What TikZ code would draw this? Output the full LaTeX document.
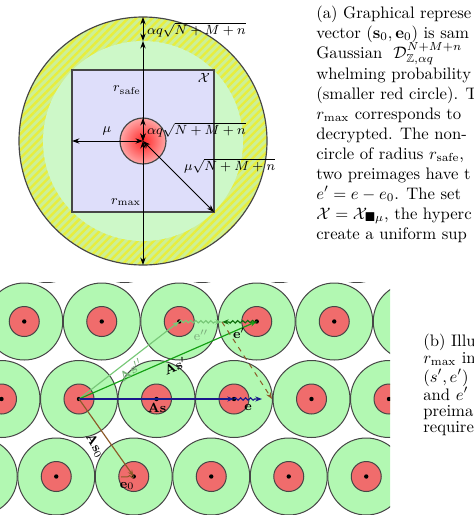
\documentclass[tikz,border=0pt]{standalone}
\usepackage{amsmath,amssymb}
\usetikzlibrary{arrows.meta,patterns.meta,decorations.pathmorphing}
\definecolor{ringbase}{RGB}{205,240,150}
\definecolor{ringstripe}{RGB}{232,238,60}
\definecolor{innergreen}{RGB}{205,248,200}
\definecolor{sqfill}{RGB}{222,222,250}
\definecolor{latgreen}{RGB}{178,248,178}
\definecolor{latred}{RGB}{240,108,108}
\definecolor{lineg}{RGB}{70,70,70}
\definecolor{vblue}{RGB}{25,25,140}
\definecolor{vgreen}{RGB}{20,160,20}
\definecolor{vlgreen}{RGB}{120,200,120}
\definecolor{vbrown}{RGB}{140,90,40}
\tikzset{
  dimarrow/.style={{Stealth[length=4.5pt,width=3.2pt]}-{Stealth[length=4.5pt,width=3.2pt]}, line width=0.6pt},
  vec/.style={-{Stealth[length=4pt,width=3pt]}, line width=0.7pt},
  wavy/.style={decorate, decoration={snake, amplitude=0.7pt, segment length=3pt, post length=3pt}},
  lab/.style={font=\footnotesize, inner sep=1pt},
  captext/.style={anchor=base west, inner sep=0pt, font=\fontsize{10}{12}\selectfont},
}
\begin{document}
\begin{tikzpicture}[x=0.6pt,y=-0.6pt]
\useasboundingbox (0,0) rectangle (474,515);
\clip (0,0) rectangle (474,515);
% ---------- top figure ----------
\coordinate (C) at (143,141);
\fill[ringbase] (C) circle[radius=124];
\fill[pattern={Lines[angle=45,distance=3.4pt,line width=1.4pt]}, pattern color=ringstripe] (C) circle[radius=124];
\draw[lineg, line width=0.7pt] (C) circle[radius=124];
\fill[innergreen] (C) circle[radius=100];
\draw[lineg, line width=0.7pt, fill=sqfill] (72,70) rectangle (214,212);
\shade[inner color=red!85, outer color=red!35] (C) circle[radius=23];
\draw[lineg, line width=0.7pt] (C) circle[radius=23];
\coordinate (Otop) at (143,17);
\coordinate (Isafe) at (143,41);
\coordinate (Obot) at (143,265);
\coordinate (Rtop) at (143,118);
\coordinate (Sleft) at (72,141);
\coordinate (Scorner) at (214,212);
\draw[dimarrow] (Otop) -- (Isafe);
\draw[dimarrow] (C) -- (Isafe);
\draw[dimarrow] (C) -- (Obot);
\draw[dimarrow] (C) -- (Rtop);
\draw[dimarrow] (Sleft) -- (C);
\draw[dimarrow] (C) -- (Scorner);
\node[lab] (lsafe) at (127,90) {$r_{\mathrm{safe}}$};
\node[lab] (lmax) at (126,202) {$r_{\max}$};
\node[lab] (lmu) at (107,131) {$\mu$};
\node[lab, anchor=west] (ltop) at (145,30) {$\alpha q\sqrt{N+M+n}$};
\node[lab, anchor=west] (lred) at (145,130) {$\alpha q\sqrt{N+M+n}$};
\node[lab, anchor=west] (ldiag) at (182,166) {$\mu\sqrt{N+M+n}$};
\node[lab] (lX) at (204,78) {$\mathcal{X}$};
% ---------- caption (a) ----------
\node[captext] (a1) at (316,18) {(a) Graphical represe};
\node[captext] (a2) at (316,38) {vector $(\mathbf{s}_0,\mathbf{e}_0)$ is sam};
\node[captext] (a3) at (316,58) {Gaussian \ $\mathcal{D}^{N+M+n}_{\mathbb{Z},\alpha q}$};
\node[captext] (a4) at (316,79) {whelming probability};
\node[captext] (a5) at (316,99) {(smaller red circle). T};
\node[captext] (a6) at (316,119) {$r_{\max}$ corresponds to};
\node[captext] (a7) at (316,139) {decrypted. The non-};
\node[captext] (a8) at (316,159) {circle of radius $r_{\mathrm{safe}}$,};
\node[captext] (a9) at (316,179) {two preimages have t};
\node[captext] (a10) at (316,199) {$e'=e-e_0$. The set};
\node[captext] (a11) at (316,219) {$\mathcal{X}=\mathcal{X}_{\blacksquare\mu}$, the hyperc};
\node[captext] (a12) at (316,239) {create a uniform sup};
% ---------- bottom figure ----------
\begin{scope}
\clip (0,282) rectangle (390,515);
\foreach \j in {-2,...,2} {
  \foreach \i in {-1,...,6} {
    \pgfmathsetmacro\cx{1.5+77.5*\i-22.75*\j}
    \pgfmathsetmacro\cy{399+77.5*\j}
    \draw[lineg, line width=0.6pt, fill=latgreen] (\cx,\cy) circle[radius=38.5];
  }
}
\foreach \j in {-2,...,2} {
  \foreach \i in {-1,...,6} {
    \pgfmathsetmacro\cx{1.5+77.5*\i-22.75*\j}
    \pgfmathsetmacro\cy{399+77.5*\j}
    \draw[lineg, line width=0.6pt, fill=latred] (\cx,\cy) circle[radius=15];
    \fill[black] (\cx,\cy) circle[radius=2.2];
  }
}
\coordinate (O) at (79,399);
\coordinate (As) at (234,399);
\coordinate (c) at (262,399);
\coordinate (Asp) at (256.75,321.5);
\coordinate (Aspp) at (179.25,321.5);
\coordinate (cp) at (222,322);
\coordinate (As0) at (133.75,476.5);
\coordinate (e0end) at (121,477);
\coordinate (dend) at (272,399);
\draw[vlgreen, vec] (O) -- (Aspp);
\draw[vlgreen, vec, wavy] (Aspp) -- (cp);
\draw[vgreen, vec] (O) -- (Asp);
\draw[vgreen!70!black, vec, wavy] (Asp) -- (cp);
\draw[vblue, vec] (O) -- (As);
\draw[vblue, vec, wavy] (As) -- (c);
\draw[vbrown, vec] (O) -- (As0);
\draw[vbrown, line width=0.6pt, wavy] (As0) -- (e0end);
\draw[vbrown, dashed, vec, line width=0.6pt] (cp) -- (dend);
\node[lab] (lAs) at (157,408) {$\mathbf{As}$};
\node[lab] (le) at (248,408) {$\mathbf{e}$};
\node[lab, rotate=23] (lAsp) at (175,366) {$\mathbf{As}'$};
\node[lab, rotate=37, text=vlgreen!70!gray] (lAspp) at (131,370) {$\mathbf{As}''$};
\node[lab, text=vlgreen!60!gray] (lepp) at (201,335) {$\mathrm{e}''$};
\node[lab] (lep) at (239,333) {$\mathbf{e}'$};
\node[lab, rotate=-60] (lAs0) at (95,446) {$\mathbf{As}_0$};
\node[lab] (le0) at (127,486) {$\mathbf{e}_0$};
\end{scope}
% ---------- caption (b) ----------
\node[captext] (b1) at (423,346) {(b) Illu};
\node[captext] (b2) at (423,363) {$r_{\max}$ in};
\node[captext] (b3) at (423,382) {$(s',e')$};
\node[captext] (b4) at (423,400) {and $e'$};
\node[captext] (b5) at (423,416) {preima};
\node[captext] (b6) at (423,432) {require};
\end{tikzpicture}
\end{document}
